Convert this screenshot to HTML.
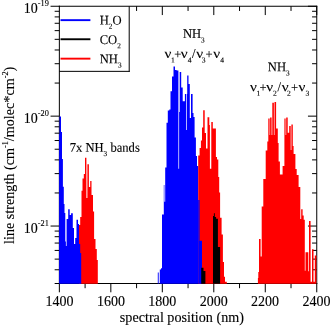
<!DOCTYPE html>
<html><head><meta charset="utf-8"><title>line strength</title>
<style>html,body{margin:0;padding:0;background:#fff}svg{display:block}text{font-family:"Liberation Serif",serif;fill:#000;stroke:#000;stroke-width:0.12px}</style></head><body>
<svg width="331" height="327" viewBox="0 0 331 327">
<rect width="331" height="327" fill="#fff"/>
<g fill="#000"><rect x="58.85" y="5.75" width="258.40" height="1.0"/><rect x="58.85" y="283.00" width="258.40" height="1.0"/><rect x="58.85" y="5.75" width="1.0" height="278.25"/><rect x="316.25" y="5.75" width="1.0" height="278.25"/><rect x="58.85" y="283.50" width="1.0" height="8.80"/><rect x="84.59" y="283.50" width="1.0" height="4.70"/><rect x="110.33" y="283.50" width="1.0" height="8.80"/><rect x="136.07" y="283.50" width="1.0" height="4.70"/><rect x="136.07" y="6.25" width="1.0" height="4.70"/><rect x="161.81" y="283.50" width="1.0" height="8.80"/><rect x="161.81" y="6.25" width="1.0" height="8.80"/><rect x="187.55" y="283.50" width="1.0" height="4.70"/><rect x="187.55" y="6.25" width="1.0" height="4.70"/><rect x="213.29" y="283.50" width="1.0" height="8.80"/><rect x="213.29" y="6.25" width="1.0" height="8.80"/><rect x="239.03" y="283.50" width="1.0" height="4.70"/><rect x="239.03" y="6.25" width="1.0" height="4.70"/><rect x="264.77" y="283.50" width="1.0" height="8.80"/><rect x="264.77" y="6.25" width="1.0" height="8.80"/><rect x="290.51" y="283.50" width="1.0" height="4.70"/><rect x="290.51" y="6.25" width="1.0" height="4.70"/><rect x="316.25" y="283.50" width="1.0" height="8.80"/><rect x="316.25" y="6.25" width="1.0" height="8.80"/><rect x="50.55" y="5.75" width="8.80" height="1.0"/><rect x="307.95" y="5.75" width="8.80" height="1.0"/><rect x="50.55" y="115.64" width="8.80" height="1.0"/><rect x="307.95" y="115.64" width="8.80" height="1.0"/><rect x="54.65" y="82.56" width="4.70" height="1.0"/><rect x="312.05" y="82.56" width="4.70" height="1.0"/><rect x="54.65" y="63.21" width="4.70" height="1.0"/><rect x="312.05" y="63.21" width="4.70" height="1.0"/><rect x="54.65" y="49.48" width="4.70" height="1.0"/><rect x="312.05" y="49.48" width="4.70" height="1.0"/><rect x="54.65" y="38.83" width="4.70" height="1.0"/><rect x="312.05" y="38.83" width="4.70" height="1.0"/><rect x="54.65" y="30.13" width="4.70" height="1.0"/><rect x="312.05" y="30.13" width="4.70" height="1.0"/><rect x="54.65" y="22.77" width="4.70" height="1.0"/><rect x="312.05" y="22.77" width="4.70" height="1.0"/><rect x="54.65" y="16.40" width="4.70" height="1.0"/><rect x="312.05" y="16.40" width="4.70" height="1.0"/><rect x="54.65" y="10.78" width="4.70" height="1.0"/><rect x="312.05" y="10.78" width="4.70" height="1.0"/><rect x="50.55" y="225.54" width="8.80" height="1.0"/><rect x="307.95" y="225.54" width="8.80" height="1.0"/><rect x="54.65" y="192.46" width="4.70" height="1.0"/><rect x="312.05" y="192.46" width="4.70" height="1.0"/><rect x="54.65" y="173.11" width="4.70" height="1.0"/><rect x="312.05" y="173.11" width="4.70" height="1.0"/><rect x="54.65" y="159.38" width="4.70" height="1.0"/><rect x="312.05" y="159.38" width="4.70" height="1.0"/><rect x="54.65" y="148.73" width="4.70" height="1.0"/><rect x="312.05" y="148.73" width="4.70" height="1.0"/><rect x="54.65" y="140.02" width="4.70" height="1.0"/><rect x="312.05" y="140.02" width="4.70" height="1.0"/><rect x="54.65" y="132.67" width="4.70" height="1.0"/><rect x="312.05" y="132.67" width="4.70" height="1.0"/><rect x="54.65" y="126.29" width="4.70" height="1.0"/><rect x="312.05" y="126.29" width="4.70" height="1.0"/><rect x="54.65" y="120.67" width="4.70" height="1.0"/><rect x="312.05" y="120.67" width="4.70" height="1.0"/><rect x="54.65" y="283.00" width="4.70" height="1.0"/><rect x="312.05" y="283.00" width="4.70" height="1.0"/><rect x="54.65" y="269.27" width="4.70" height="1.0"/><rect x="312.05" y="269.27" width="4.70" height="1.0"/><rect x="54.65" y="258.62" width="4.70" height="1.0"/><rect x="312.05" y="258.62" width="4.70" height="1.0"/><rect x="54.65" y="249.92" width="4.70" height="1.0"/><rect x="312.05" y="249.92" width="4.70" height="1.0"/><rect x="54.65" y="242.56" width="4.70" height="1.0"/><rect x="312.05" y="242.56" width="4.70" height="1.0"/><rect x="54.65" y="236.19" width="4.70" height="1.0"/><rect x="312.05" y="236.19" width="4.70" height="1.0"/><rect x="54.65" y="230.57" width="4.70" height="1.0"/><rect x="312.05" y="230.57" width="4.70" height="1.0"/></g>
<g fill="#ff0000"><path d="M78.90,283.7L78.90,225.00L80.20,225.00L80.20,217.00L81.50,217.00L81.50,190.70L82.50,190.70L82.50,178.40L83.80,178.40L83.80,174.00L85.00,174.00L85.00,157.70L86.40,157.70L86.40,198.00L87.40,198.00L87.40,164.30L88.90,164.30L88.90,187.00L90.20,187.00L90.20,181.00L91.50,181.00L91.50,195.00L93.00,195.00L93.00,211.50L94.10,211.50L94.10,239.00L95.50,239.00L95.50,249.00L96.80,249.00L96.80,260.00L97.80,260.00L97.80,283.7Z"/></g>
<g fill="#0000ff"><path d="M59.10,283.7L59.10,134.00L59.50,134.00L59.50,116.40L61.00,116.40L61.00,132.00L62.00,132.00L62.00,159.00L62.90,159.00L62.90,186.70L63.80,186.70L63.80,204.00L64.50,204.00L64.50,213.00L65.30,213.00L65.30,241.40L65.90,241.40L65.90,246.00L66.60,246.00L66.60,218.90L68.20,218.90L68.20,209.30L69.70,209.30L69.70,215.00L71.10,215.00L71.10,213.30L72.80,213.30L72.80,228.00L74.00,228.00L74.00,244.00L75.20,244.00L75.20,238.00L76.50,238.00L76.50,219.80L78.00,219.80L78.00,224.00L79.00,224.00L79.00,244.00L80.20,244.00L80.20,253.00L81.20,253.00L81.20,283.7Z"/></g>
<g fill="#0000ff"><path d="M157.80,283.7L157.80,272.50L158.70,272.50L158.70,283.7Z"/><path d="M159.80,283.7L159.80,269.50L161.00,269.50L161.00,268.30L162.00,268.30L162.00,214.50L163.80,214.50L163.80,185.00L164.40,185.00L164.40,201.70L165.20,201.70L165.20,167.50L166.50,167.50L166.50,122.80L167.80,122.80L167.80,110.50L169.30,110.50L169.30,109.50L170.50,109.50L170.50,91.20L172.00,91.20L172.00,76.50L173.50,76.50L173.50,66.40L175.00,66.40L175.00,70.00L176.60,70.00L176.60,70.60L178.40,70.60L178.40,168.70L179.10,168.70L179.10,112.00L179.70,112.00L179.70,72.00L181.20,72.00L181.20,87.50L182.70,87.50L182.70,101.30L184.90,101.30L184.90,94.00L186.10,94.00L186.10,130.00L186.80,130.00L186.80,94.00L187.20,94.00L187.20,75.60L188.50,75.60L188.50,83.90L189.80,83.90L189.80,118.00L191.00,118.00L191.00,94.00L192.60,94.00L192.60,113.00L193.50,113.00L193.50,117.00L194.60,117.00L194.60,137.50L195.90,137.50L195.90,156.00L197.00,156.00L197.00,166.00L198.20,166.00L198.20,283.7Z"/></g>
<g fill="#ff0000"><path d="M198.20,283.7L198.20,155.50L199.60,155.50L199.60,148.00L200.90,148.00L200.90,140.50L202.00,140.50L202.00,127.50L203.20,127.50L203.20,110.20L204.70,110.20L204.70,133.00L206.00,133.00L206.00,148.50L207.50,148.50L207.50,117.30L209.30,117.30L209.30,125.00L209.90,125.00L209.90,168.80L211.30,168.80L211.30,122.00L212.80,122.00L212.80,128.40L215.90,128.40L215.90,157.00L217.00,157.00L217.00,159.60L218.30,159.60L218.30,177.00L219.20,177.00L219.20,192.60L220.10,192.60L220.10,217.80L221.60,217.80L221.60,234.40L222.90,234.40L222.90,262.00L224.00,262.00L224.00,276.70L225.00,276.70L225.00,281.70L226.80,281.70L226.80,283.7Z"/></g>
<g fill="#0000ff"><path d="M198.20,283.7L198.20,200.00L199.60,200.00L199.60,240.70L202.00,240.70L202.00,283.7Z"/></g>
<g fill="#000000"><path d="M201.20,283.7L201.20,267.80L203.50,267.80L203.50,271.00L205.40,271.00L205.40,283.7Z"/><path d="M213.00,283.7L213.00,216.00L213.90,216.00L213.90,213.30L214.80,213.30L214.80,217.00L216.10,217.00L216.10,218.80L217.90,218.80L217.90,247.00L220.10,247.00L220.10,283.7Z"/></g>
<g fill="#ff0000"><path d="M257.90,283.7L257.90,278.00L258.30,278.00L258.30,272.00L259.00,272.00L259.00,239.00L260.60,239.00L260.60,256.40L261.70,256.40L261.70,206.40L263.30,206.40L263.30,179.00L265.70,179.00L265.70,150.50L267.30,150.50L267.30,141.40L268.30,141.40L268.30,118.40L269.60,118.40L269.60,135.00L270.10,135.00L270.10,117.40L271.60,117.40L271.60,135.00L272.30,135.00L272.30,102.70L273.90,102.70L273.90,135.00L274.50,135.00L274.50,101.90L276.10,101.90L276.10,128.40L277.80,128.40L277.80,143.00L278.60,143.00L278.60,161.50L279.90,161.50L279.90,174.40L282.60,174.40L282.60,166.00L284.40,166.00L284.40,118.40L285.60,118.40L285.60,135.00L286.20,135.00L286.20,117.40L287.70,117.40L287.70,132.70L289.20,132.70L289.20,126.00L290.70,126.00L290.70,150.00L291.40,150.00L291.40,124.40L292.80,124.40L292.80,146.00L293.60,146.00L293.60,154.00L295.40,154.00L295.40,169.00L296.70,169.00L296.70,175.00L298.60,175.00L298.60,187.00L300.30,187.00L300.30,219.00L301.20,219.00L301.20,209.30L302.60,209.30L302.60,215.40L303.70,215.40L303.70,219.70L304.80,219.70L304.80,270.70L305.50,270.70L305.50,252.20L308.30,252.20L308.30,271.30L309.00,271.30L309.00,220.90L310.60,220.90L310.60,281.70L312.00,281.70L312.00,249.30L313.50,249.30L313.50,281.70L314.80,281.70L314.80,255.40L316.40,255.40L316.40,283.7Z"/></g>
<g fill="#000"><rect x="128.7" y="6.25" width="1" height="65.6"/><rect x="59.35" y="70.85" width="70.35" height="1"/></g>
<g stroke-width="1.9"><line x1="60.5" x2="90.4" y1="20.15" y2="20.15" stroke="#0000ff"/><line x1="60.5" x2="90.4" y1="39.25" y2="39.25" stroke="#000"/><line x1="60.5" x2="90.4" y1="58.65" y2="58.65" stroke="#ff0000"/></g>
<g font-size="13.2"><text transform="translate(99.70,24.50) rotate(0.03) scale(0.955,1)" text-anchor="start">H<tspan font-size="7.6" dy="4.3">2</tspan><tspan dy="-4.3" font-size="7.6">&#8203;</tspan>O</text><text transform="translate(99.70,43.90) rotate(0.03) scale(0.955,1)" text-anchor="start">CO<tspan font-size="7.6" dy="4.3">2</tspan><tspan dy="-4.3" font-size="7.6">&#8203;</tspan></text><text transform="translate(99.70,63.20) rotate(0.03) scale(0.955,1)" text-anchor="start">NH<tspan font-size="7.6" dy="4.3">3</tspan><tspan dy="-4.3" font-size="7.6">&#8203;</tspan></text><text transform="translate(69.70,151.70) rotate(0.03) scale(0.955,1)" text-anchor="start">7x NH<tspan font-size="7.6" dy="4.3">3</tspan><tspan dy="-4.3" font-size="7.6">&#8203;</tspan> bands</text><text transform="translate(193.80,38.10) rotate(0.03) scale(0.955,1)" text-anchor="middle">NH<tspan font-size="7.6" dy="4.3">3</tspan><tspan dy="-4.3" font-size="7.6">&#8203;</tspan></text><text transform="translate(278.70,71.30) rotate(0.03) scale(0.955,1)" text-anchor="middle">NH<tspan font-size="7.6" dy="4.3">3</tspan><tspan dy="-4.3" font-size="7.6">&#8203;</tspan></text><text transform="translate(164.60,57.80) rotate(0.03) scale(1.155,1)" text-anchor="start">ν</text><text transform="translate(171.00,62.50) rotate(0.03)" font-size="7.6">1</text><text transform="translate(174.20,58.60) rotate(0.03) scale(0.955,1)" text-anchor="start">+</text><text transform="translate(180.80,57.80) rotate(0.03) scale(1.155,1)" text-anchor="start">ν</text><text transform="translate(187.70,62.50) rotate(0.03)" font-size="7.6">4</text><text transform="translate(192.00,57.80) rotate(0.03) scale(0.955,1)" text-anchor="start">/</text><text transform="translate(196.30,57.80) rotate(0.03) scale(1.155,1)" text-anchor="start">ν</text><text transform="translate(201.70,62.50) rotate(0.03)" font-size="7.6">3</text><text transform="translate(205.50,58.60) rotate(0.03) scale(0.955,1)" text-anchor="start">+</text><text transform="translate(213.20,57.80) rotate(0.03) scale(1.155,1)" text-anchor="start">ν</text><text transform="translate(220.20,62.50) rotate(0.03)" font-size="7.6">4</text><text transform="translate(250.00,91.00) rotate(0.03) scale(1.155,1)" text-anchor="start">ν</text><text transform="translate(256.40,95.70) rotate(0.03)" font-size="7.6">1</text><text transform="translate(259.60,91.80) rotate(0.03) scale(0.955,1)" text-anchor="start">+</text><text transform="translate(266.20,91.00) rotate(0.03) scale(1.155,1)" text-anchor="start">ν</text><text transform="translate(273.10,95.70) rotate(0.03)" font-size="7.6">2</text><text transform="translate(277.40,91.00) rotate(0.03) scale(0.955,1)" text-anchor="start">/</text><text transform="translate(281.70,91.00) rotate(0.03) scale(1.155,1)" text-anchor="start">ν</text><text transform="translate(287.10,95.70) rotate(0.03)" font-size="7.6">2</text><text transform="translate(290.90,91.80) rotate(0.03) scale(0.955,1)" text-anchor="start">+</text><text transform="translate(298.60,91.00) rotate(0.03) scale(1.155,1)" text-anchor="start">ν</text><text transform="translate(305.60,95.70) rotate(0.03)" font-size="7.6">3</text></g>
<g font-size="14" text-anchor="middle"><text x="59.5" y="306">1400</text><text x="110.9" y="306">1600</text><text x="162.3" y="306">1800</text><text x="213.7" y="306">2000</text><text x="265.1" y="306">2200</text><text x="316.5" y="306">2400</text></g>
<g font-size="14"><text x="23.8" y="13.1">10<tspan font-size="8.3" dy="-7.2">-19</tspan></text><text x="23.8" y="123.1">10<tspan font-size="8.3" dy="-7.2">-20</tspan></text><text x="23.8" y="233.1">10<tspan font-size="8.3" dy="-7.2">-21</tspan></text></g>
<text font-size="14.15" x="181.9" y="322" text-anchor="middle">spectral position (nm)</text>
<text font-size="14.15" transform="translate(14.3,155.3) rotate(-90)" text-anchor="middle">line strength (cm<tspan font-size="8.3" dy="-6">-1</tspan><tspan dy="6">/molec*cm</tspan><tspan font-size="8.3" dy="-6">-2</tspan><tspan dy="6">)</tspan></text>
</svg>
</body></html>
